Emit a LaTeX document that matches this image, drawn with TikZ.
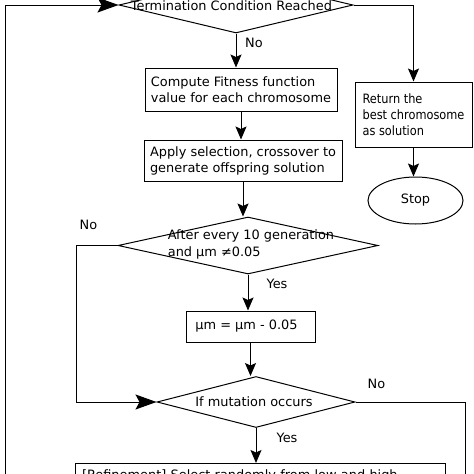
\documentclass[tikz,border=0pt]{standalone}
\usepackage{fontspec}
\setmainfont{DejaVu Sans}
\newfontfamily\condfont[FakeStretch=0.88]{DejaVu Sans}
\usetikzlibrary{arrows.meta,shapes.geometric}
\tikzset{
  txt/.style={font=\fontsize{12.9}{16}\selectfont},
  box/.style={draw, line width=1pt, inner sep=0pt, align=left, txt},
  dia/.style={draw, diamond, line width=1pt, inner sep=0pt},
  lbl/.style={txt, inner sep=0pt},
  conn/.style={line width=1pt, -{Stealth[length=13pt,width=11pt,inset=2.5pt]}},
  bigconn/.style={line width=1pt, -{Stealth[length=21pt,width=15pt,inset=4pt]}},
  plain/.style={line width=1pt}
}
\begin{document}
\begin{tikzpicture}[x=1pt,y=-1pt]
\useasboundingbox (0,0) rectangle (474,474);
\fill[white] (0,0) rectangle (474,474);
\clip (0,0) rectangle (474,474);

% decisions
\node[dia, minimum width=234pt, minimum height=56pt] (d1) at (236,5) {};
\node[lbl, anchor=base] (d1t) at (231.5,10) {Termination Condition Reached};

\node[dia, minimum width=260pt, minimum height=57pt] (d2) at (248,245.5) {};
\node[lbl, align=left, font=\fontsize{12.9}{17}\selectfont] (d2t) at (251,244.5) {After every 10 generation\\and µm ≠0.05};

\node[dia, minimum width=198pt, minimum height=51pt] (d3) at (256,402) {};
\node[lbl] (d3t) at (254,402) {If mutation occurs};

% process boxes
\node[box, minimum width=192pt, minimum height=43pt] (comp) at (241,89.5) {Compute Fitness function\\value for each chromosome};
\node[box, minimum width=198pt, minimum height=41pt] (app) at (243,160.5) {Apply selection, crossover to\\generate offspring solution};
\node[box, minimum width=117pt, minimum height=65pt, font=\condfont\fontsize{12.9}{15.8}\selectfont] (ret) at (413.5,114.5) {Return the\\best chromosome\\as solution};
\node[draw, ellipse, line width=1pt, inner sep=0pt, minimum width=95pt, minimum height=47pt, txt] (stop) at (415.5,200.5) {Stop};
\node[box, minimum width=129pt, minimum height=31pt] (mu) at (250.5,326.5) {µm = µm - 0.05\hspace*{8pt}};
\node[box, anchor=north, minimum width=370pt, minimum height=40pt, text width=356pt, inner xsep=7pt, inner ysep=6.5pt] (ref) at (260,463) {[Refinement] Select randomly from low and high ranked chromosomes of the population};

% labels
\node[lbl] (no1) at (254,43) {No};
\node[lbl] (no2) at (88.5,225) {No};
\node[lbl] (yes1) at (277,284) {Yes};
\node[lbl] (no3) at (376.5,384) {No};
\node[lbl] (yes2) at (287,438) {Yes};

% connectors
\coordinate (lbot) at (5,490);
\coordinate (rbot) at (465,490);
\draw[bigconn] (lbot) |- (d1.west);
\draw[conn] (d1.east) -| (ret.north);
\draw[conn] (d1.south) -- (d1.south |- comp.north);
\draw[conn] (comp.south) -- (comp.south |- app.north);
\draw[conn] (ret.south) -- (ret.south |- stop.north);
\draw[conn] (app.south) -- (app.south |- d2.north);
\draw[conn] (d2.south) -- (d2.south |- mu.north);
\draw[bigconn] (d2.west) -- ++(-41,0) |- (d3.west);
\draw[conn] (mu.south) -- (mu.south |- d3.north);
\draw[conn] (d3.south) -- (d3.south |- ref.north);
\draw[plain] (d3.east) -| (rbot);
\end{tikzpicture}
\end{document}
